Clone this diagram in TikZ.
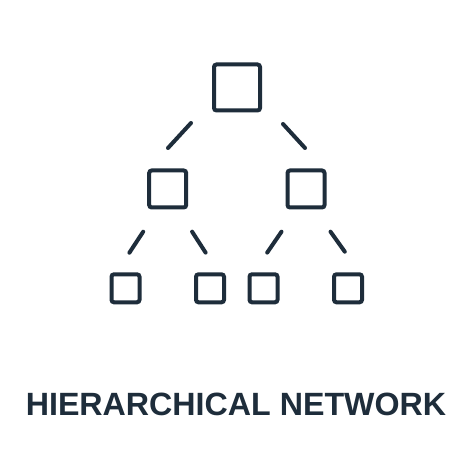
\documentclass[tikz,border=0pt]{standalone}
\usepackage{fontspec}
\setmainfont{Liberation Sans}
\definecolor{ink}{HTML}{1E2D3B}
\begin{document}
\begin{tikzpicture}[x=1pt,y=1pt,
  box/.style={draw=ink, line width=4pt, rounded corners=2.5pt, inner sep=0pt, minimum size=#1},
  link/.style={draw=ink, line width=4pt, line cap=round},
  title/.style={text=ink, font=\fontsize{32.2}{36}\selectfont\bfseries, inner sep=0pt, anchor=base}]
\useasboundingbox[fill=white] (0,0) rectangle (474,474);
% boxes
\node[box=46pt] (top) at (237,386.5) {};
\node[box=37pt] (ml) at (167.7,285) {};
\node[box=37pt] (mr) at (306,285) {};
\node[box=28pt] (b1) at (125.5,185.7) {};
\node[box=28pt] (b2) at (210,185.7) {};
\node[box=28pt] (b3) at (263.5,185.7) {};
\node[box=28pt] (b4) at (348,185.7) {};
% connector end points
\coordinate (l1a) at (191,351);
\coordinate (l1b) at (168,326);
\coordinate (r1a) at (283,350);
\coordinate (r1b) at (305,326);
\coordinate (a1) at (143.2,242.3);
\coordinate (a2) at (129.4,221.3);
\coordinate (c1) at (192.1,242.3);
\coordinate (c2) at (205.6,221.4);
\coordinate (d1) at (281.5,242.3);
\coordinate (d2) at (267.2,221.4);
\coordinate (e1) at (330.5,242.3);
\coordinate (e2) at (344.8,222.3);
\draw[link] (l1a) -- (l1b);
\draw[link] (r1a) -- (r1b);
\draw[link] (a1) -- (a2);
\draw[link] (c1) -- (c2);
\draw[link] (d1) -- (d2);
\draw[link] (e1) -- (e2);
% title
\node[title] (label) at (236,58) {HIERARCHICAL NETWORK};
\end{tikzpicture}
\end{document}
